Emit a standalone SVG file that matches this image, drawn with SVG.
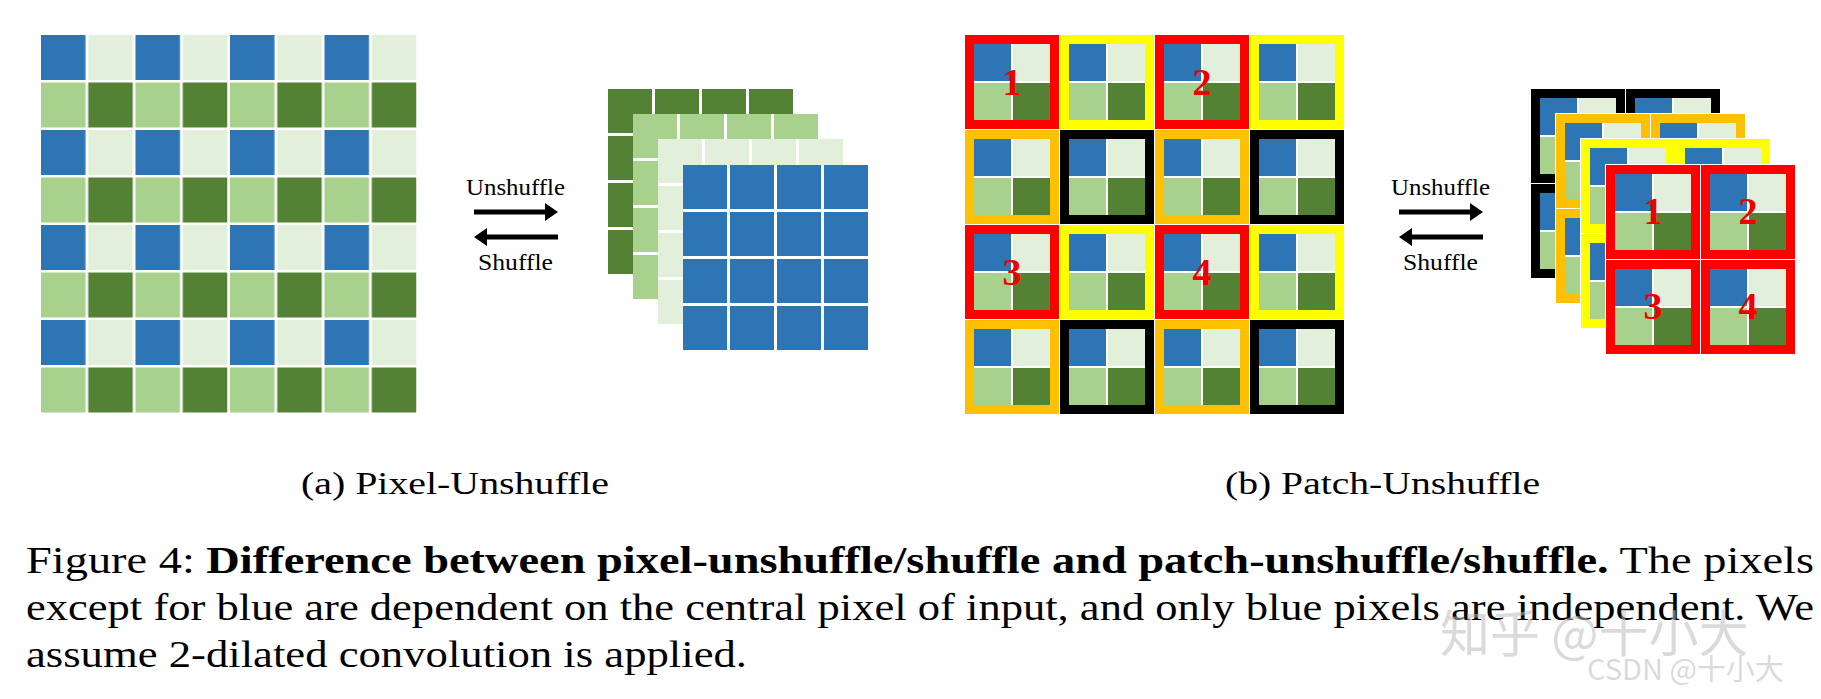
<svg xmlns="http://www.w3.org/2000/svg" xmlns:xlink="http://www.w3.org/1999/xlink" width="1821" height="699" viewBox="0 0 1821 699">
<style>
.t{font-family:"Liberation Serif","Times New Roman",serif;fill:#000}
.num{font-family:"Liberation Serif",serif;font-weight:bold;font-size:38px;fill:#e00;text-anchor:middle}
.wm{font-family:"Noto Sans CJK SC","Liberation Sans",sans-serif;fill:#bbb;fill-opacity:0.55}
</style>
<defs>
<pattern id="pGrid" patternUnits="userSpaceOnUse" width="94.5" height="95">
<rect width="94.5" height="95" fill="#fff"/>
<rect x="0" y="0" width="44.5" height="45" fill="#2E75B6"/>
<rect x="47.25" y="0" width="44.5" height="45" fill="#E2EFDA"/>
<rect x="0" y="47.5" width="44.5" height="45" fill="#A9D18E"/>
<rect x="47.25" y="47.5" width="44.5" height="45" fill="#548235"/>
</pattern>
<pattern id="pDark" patternUnits="userSpaceOnUse" width="47" height="47"><rect width="47" height="47" fill="#fff"/><rect width="44" height="44" fill="#548235"/></pattern>
<pattern id="pMid" patternUnits="userSpaceOnUse" width="47" height="47"><rect width="47" height="47" fill="#fff"/><rect width="44" height="44" fill="#A9D18E"/></pattern>
<pattern id="pLight" patternUnits="userSpaceOnUse" width="47" height="47"><rect width="47" height="47" fill="#fff"/><rect width="44" height="44" fill="#E2EFDA"/></pattern>
<pattern id="pBlue" patternUnits="userSpaceOnUse" width="47" height="47"><rect width="47" height="47" fill="#fff"/><rect width="44" height="44" fill="#2E75B6"/></pattern>
<g id="patch">
<rect width="94" height="94"/>
<rect x="9" y="9" width="76" height="76" fill="#fff"/>
<rect x="9" y="9" width="37" height="37" fill="#2E75B6"/>
<rect x="48" y="9" width="37" height="37" fill="#E2EFDA"/>
<rect x="9" y="48" width="37" height="37" fill="#A9D18E"/>
<rect x="48" y="48" width="37" height="37" fill="#548235"/>
</g>
<g id="layer2">
<rect x="-1" y="-1" width="191" height="191" fill="#fff"/>
<use xlink:href="#patch"/><use xlink:href="#patch" x="95"/>
<use xlink:href="#patch" y="95"/><use xlink:href="#patch" x="95" y="95"/>
</g>
</defs>
<rect width="1821" height="699" fill="#fff"/>

<g id="pixel-input" transform="translate(41,35)">
<rect width="376" height="378" fill="url(#pGrid)"/>
</g>
<g id="pixel-output">
<g transform="translate(608,89)"><rect width="185" height="185" fill="url(#pDark)"/></g>
<g transform="translate(633,114)"><rect width="185" height="185" fill="url(#pMid)"/></g>
<g transform="translate(658,139)"><rect width="185" height="185" fill="url(#pLight)"/></g>
<g transform="translate(683,165)"><rect width="185" height="185" fill="url(#pBlue)"/></g>
</g>

<g id="patch-input">
<use xlink:href="#patch" x="965" y="35" fill="#FF0000"/>
<use xlink:href="#patch" x="1060" y="35" fill="#FFFF00"/>
<use xlink:href="#patch" x="1155" y="35" fill="#FF0000"/>
<use xlink:href="#patch" x="1250" y="35" fill="#FFFF00"/>
<use xlink:href="#patch" x="965" y="130" fill="#FFC000"/>
<use xlink:href="#patch" x="1060" y="130" fill="#000"/>
<use xlink:href="#patch" x="1155" y="130" fill="#FFC000"/>
<use xlink:href="#patch" x="1250" y="130" fill="#000"/>
<use xlink:href="#patch" x="965" y="225" fill="#FF0000"/>
<use xlink:href="#patch" x="1060" y="225" fill="#FFFF00"/>
<use xlink:href="#patch" x="1155" y="225" fill="#FF0000"/>
<use xlink:href="#patch" x="1250" y="225" fill="#FFFF00"/>
<use xlink:href="#patch" x="965" y="320" fill="#FFC000"/>
<use xlink:href="#patch" x="1060" y="320" fill="#000"/>
<use xlink:href="#patch" x="1155" y="320" fill="#FFC000"/>
<use xlink:href="#patch" x="1250" y="320" fill="#000"/>
<text class="num" x="1012" y="95">1</text>
<text class="num" x="1202" y="95">2</text>
<text class="num" x="1012" y="285">3</text>
<text class="num" x="1202" y="285">4</text>
</g>
<g id="patch-output">
<use xlink:href="#layer2" x="1531" y="89" fill="#000"/>
<use xlink:href="#layer2" x="1556" y="114" fill="#FFC000"/>
<use xlink:href="#layer2" x="1581" y="139" fill="#FFFF00"/>
<use xlink:href="#layer2" x="1606" y="165" fill="#FF0000"/>
<text class="num" x="1653" y="224">1</text>
<text class="num" x="1748" y="224">2</text>
<text class="num" x="1653" y="319">3</text>
<text class="num" x="1748" y="319">4</text>
</g>

<g id="connectors" fill="#000">
<polygon points="474,209.5 545,209.5 545,203 558,212 545,221 545,214.5 474,214.5"/>
<polygon points="558,234.5 487,234.5 487,228 474,237 487,246 487,239.5 558,239.5"/>
<polygon points="1399,209.5 1470,209.5 1470,203 1483,212 1470,221 1470,214.5 1399,214.5"/>
<polygon points="1483,234.5 1412,234.5 1412,228 1399,237 1412,246 1412,239.5 1483,239.5"/>
</g>
<g id="labels">
<text class="t" x="466" y="195" font-size="24" textLength="99" lengthAdjust="spacingAndGlyphs">Unshuffle</text>
<text class="t" x="478" y="270" font-size="24" textLength="75" lengthAdjust="spacingAndGlyphs">Shuffle</text>
<text class="t" x="1391" y="195" font-size="24" textLength="99" lengthAdjust="spacingAndGlyphs">Unshuffle</text>
<text class="t" x="1403" y="270" font-size="24" textLength="75" lengthAdjust="spacingAndGlyphs">Shuffle</text>
<text class="t" x="301" y="494" font-size="32" textLength="308" lengthAdjust="spacingAndGlyphs">(a) Pixel-Unshuffle</text>
<text class="t" x="1225" y="494" font-size="32" textLength="315" lengthAdjust="spacingAndGlyphs">(b) Patch-Unshuffle</text>
<text class="t" x="26" y="573" font-size="38" textLength="1788" lengthAdjust="spacingAndGlyphs">Figure 4: <tspan font-weight="bold">Difference between pixel-unshuffle/shuffle and patch-unshuffle/shuffle.</tspan> The pixels</text>
<text class="t" x="26" y="620" font-size="38" textLength="1788" lengthAdjust="spacingAndGlyphs">except for blue are dependent on the central pixel of input, and only blue pixels are independent. We</text>
<text class="t" x="26" y="667" font-size="38" textLength="721" lengthAdjust="spacingAndGlyphs">assume 2-dilated convolution is applied.</text>
<text class="wm" x="1440" y="652" font-size="50">知乎 @十小大</text>
<text class="wm" x="1587" y="680" font-size="29">CSDN @十小大</text>
</g>
</svg>
